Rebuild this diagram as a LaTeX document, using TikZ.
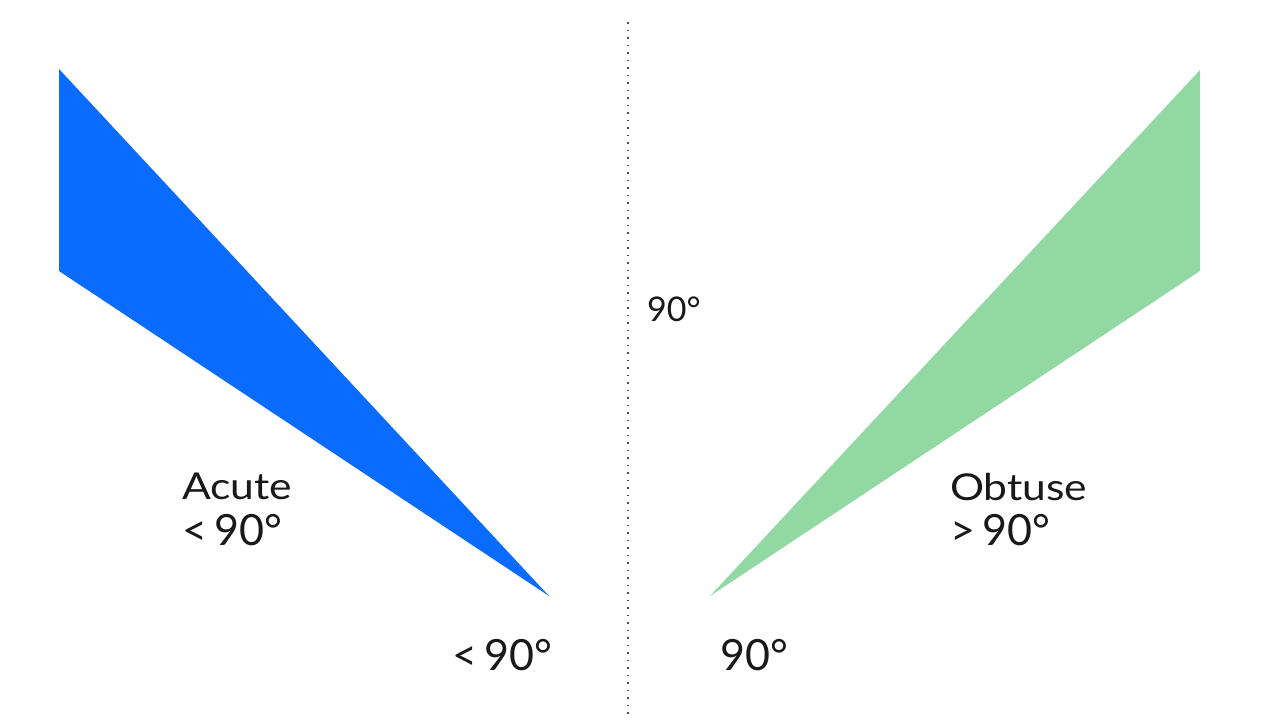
\documentclass[tikz,border=0pt]{standalone}
\usepackage{fontspec}
\usepackage{graphicx}
\setmainfont{Lato}
\definecolor{acuteblue}{RGB}{10,108,255}
\definecolor{obtusegreen}{RGB}{146,216,162}
\definecolor{txt}{RGB}{25,25,25}
\newcommand{\widen}[1]{\scalebox{1.15}[1]{#1}}
\begin{document}
\begin{tikzpicture}[x=1pt,y=-1pt,
  wordlbl/.style={anchor=base west,inner sep=0pt,text=txt,font=\fontsize{37}{44}\selectfont},
  biglbl/.style={anchor=base west,inner sep=0pt,text=txt,font=\fontsize{43}{50}\selectfont},
  divider/.style={draw=black!70,line width=2pt,dash pattern=on 1.6pt off 5.9pt}]
\useasboundingbox[fill=white] (0,0) rectangle (1280,720);
% wedges
\fill[acuteblue] (59,69) -- (59,271) -- (549,596) -- cycle;
\fill[obtusegreen] (1200,70) -- (1200,271) -- (710,596) -- cycle;
% divider
\coordinate (dtop) at (628,22);
\coordinate (dbot) at (628,720);
\draw[divider] (dtop) -- (dbot);
% labels
\node[wordlbl] (acute) at (182,499) {\widen{Acute}};
\node[biglbl] (acutelt) at (182,545) {<\,90°};
\node[wordlbl] (obtuse) at (950,500) {\widen{Obtuse}};
\node[biglbl] (obtusegt) at (950,545) {>\,90°};
\node[anchor=base west,inner sep=0pt,text=txt,font=\fontsize{34}{40}\selectfont] (right) at (647,321) {90°};
\node[biglbl] (lt) at (452,670) {<\,90°};
\node[biglbl] (ninety) at (720,670) {90°};
\end{tikzpicture}
\end{document}
